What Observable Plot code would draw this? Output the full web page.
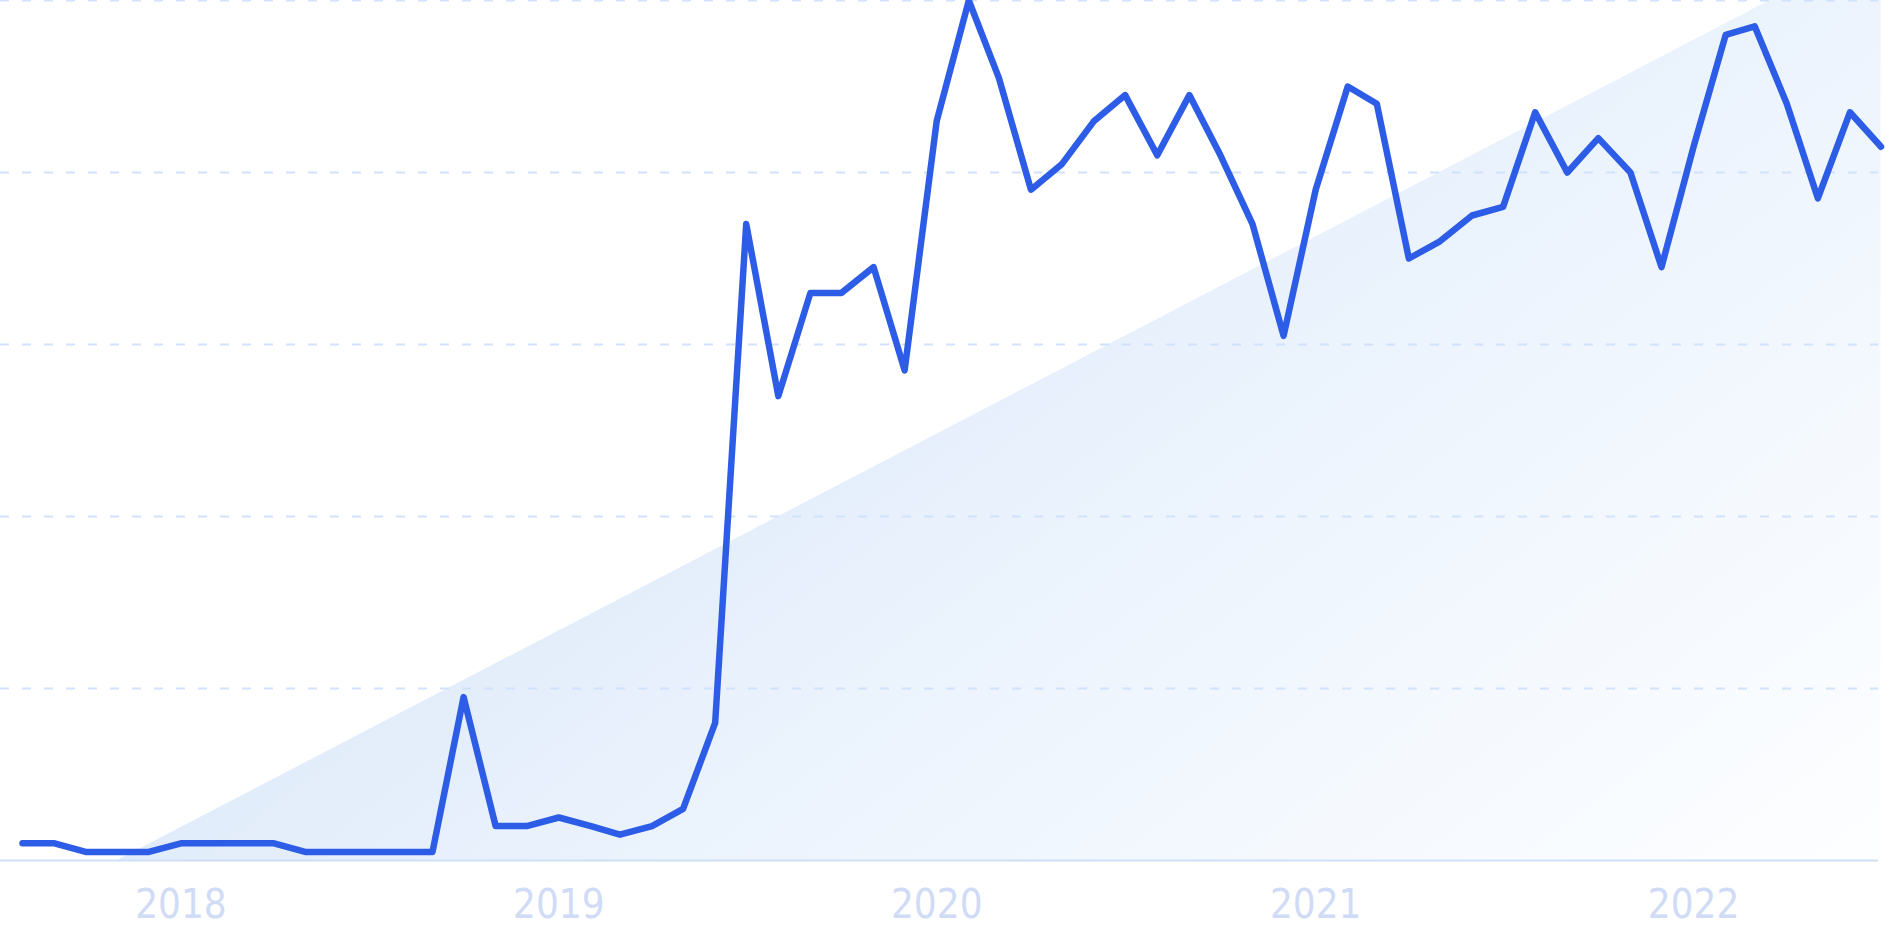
<!DOCTYPE html>
<html>
<head>
<meta charset="utf-8">
<script src="https://cdn.jsdelivr.net/npm/d3@7"></script>
<script src="https://cdn.jsdelivr.net/npm/@observablehq/plot@0.6"></script>
<style>
  html, body { margin: 0; padding: 0; background: #ffffff; }
  #chart svg { display: block; }
</style>
</head>
<body>
<div id="chart"></div>
<script>
// Monthly observations (Aug 2017 – Jul 2022), index 0..100
const months = [
  "2017-08","2017-09","2017-10","2017-11","2017-12",
  "2018-01","2018-02","2018-03","2018-04","2018-05","2018-06","2018-07","2018-08","2018-09","2018-10","2018-11","2018-12",
  "2019-01","2019-02","2019-03","2019-04","2019-05","2019-06","2019-07","2019-08","2019-09","2019-10","2019-11","2019-12",
  "2020-01","2020-02","2020-03","2020-04","2020-05","2020-06","2020-07","2020-08","2020-09","2020-10","2020-11","2020-12",
  "2021-01","2021-02","2021-03","2021-04","2021-05","2021-06","2021-07","2021-08","2021-09","2021-10","2021-11","2021-12",
  "2022-01","2022-02","2022-03","2022-04","2022-05","2022-06","2022-07"
];
const values = [
  2, 2, 1, 1, 1,
  2, 2, 2, 2, 1, 1, 1, 1, 1, 19, 4, 4,
  5, 4, 3, 4, 6, 16, 74, 54, 66, 66, 69, 57,
  86, 100, 91, 78, 81, 86, 89, 82, 89, 82, 74, 61,
  78, 90, 88, 70, 72, 75, 76, 87, 80, 84, 80, 69,
  83, 96, 97, 88, 77, 87, 83
];

// Background trend wedge
const wedgeDates = ["2017-11-01", "2022-03-16", "2022-07-01"];
const wedgeValues = [0, 100, 100];

// Axes
const yearTicks = ["2018-01-01", "2019-01-01", "2020-01-01", "2021-01-01", "2022-01-01"];
const yearLabels = ["2018", "2019", "2020", "2021", "2022"];
const gridValues = [20, 40, 60, 80, 100];
const xDomain = ["2017-08-01", "2022-07-01"];

const series = months.map((m, i) => ({date: new Date(m + "-01T00:00:00Z"), value: values[i]}));
const wedge = wedgeDates.map((d, i) => ({date: new Date(d + "T00:00:00Z"), value: wedgeValues[i]}));
const tickDates = yearTicks.map(d => new Date(d + "T00:00:00Z"));
const labelOf = new Map(tickDates.map((d, i) => [+d, yearLabels[i]]));

const svg = Plot.plot({
  width: 1885,
  height: 941,
  marginTop: 0,
  marginLeft: 0,
  marginRight: 7,
  marginBottom: 81,
  style: {background: "#ffffff", overflow: "visible"},
  x: {type: "utc", domain: xDomain.map(d => new Date(d + "T00:00:00Z")), range: [22, 1880.5]},
  y: {domain: [0, 100], range: [860, 0], axis: null},
  marks: [
    Plot.areaY(wedge, {x: "date", y1: 0, y2: "value", fill: "url(#wedgeGrad)"}),
    Plot.gridY(gridValues, {stroke: "#d2e2fc", strokeOpacity: 1, strokeWidth: 2, strokeDasharray: "9,13"}),
    Plot.ruleY([0], {stroke: "#d0dff8", strokeWidth: 2}),
    Plot.axisX({
      ticks: tickDates,
      tickFormat: d => labelOf.get(+d),
      tickSize: 0,
      tickPadding: 29,
      fontSize: 40,
      fill: "#d0dbf6",
      fontFamily: "'Liberation Sans Narrow', 'DejaVu Sans Condensed', sans-serif",
      label: null
    }),
    Plot.lineY(series, {x: "date", y: "value", stroke: "#2d5de6", strokeWidth: 6.5, strokeLinejoin: "round"})
  ]
});

const ns = "http://www.w3.org/2000/svg";
const defs = document.createElementNS(ns, "defs");
defs.innerHTML = `
  <linearGradient id="wedgeGrad" gradientUnits="userSpaceOnUse" x1="117" y1="860" x2="753" y2="1703">
    <stop offset="0" stop-color="#e1ecfa"/>
    <stop offset="0.3" stop-color="#ebf3fd"/>
    <stop offset="0.6" stop-color="#f3f8fe"/>
    <stop offset="1" stop-color="#fdfeff"/>
  </linearGradient>`;
svg.insertBefore(defs, svg.firstChild);
document.getElementById("chart").appendChild(svg);
</script>
</body>
</html>
